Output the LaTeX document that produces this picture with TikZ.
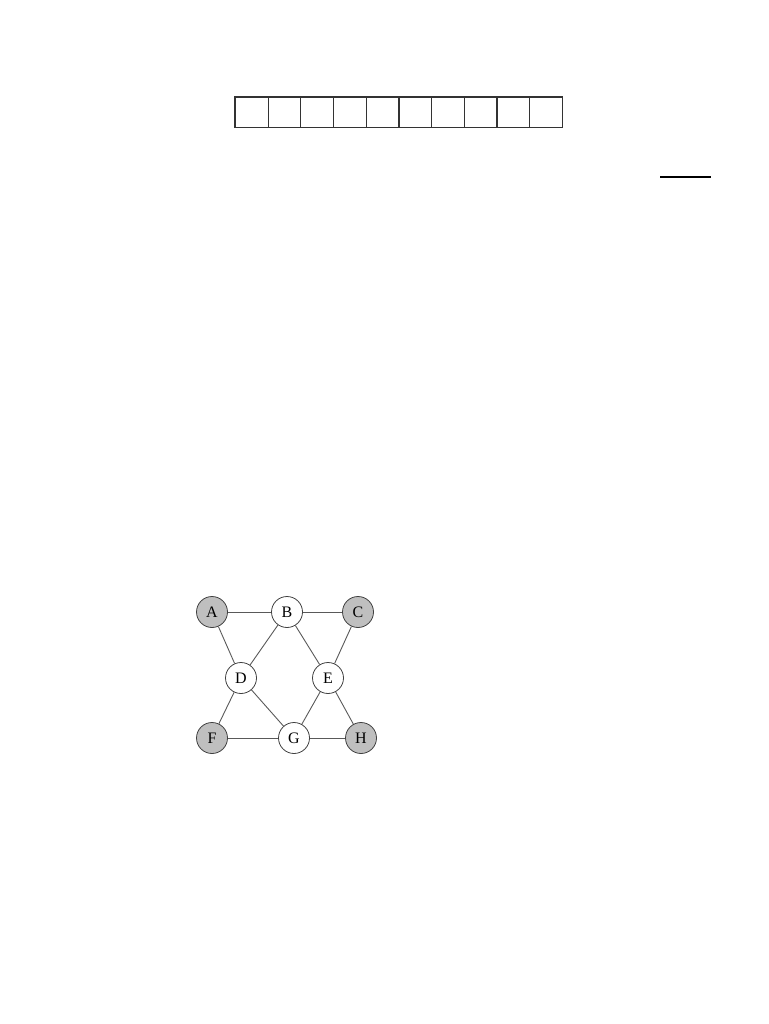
\documentclass[tikz,border=0pt]{standalone}
\usepackage{fontspec}
\setmainfont{Liberation Serif}
\begin{document}
\begin{tikzpicture}[x=1pt,y=-1pt,
  cellbox/.style={minimum width=32.7pt,minimum height=30pt,inner sep=0pt,anchor=north west},
  gridline/.style={draw=black!80,line width=1.2pt},
  vert/.style={circle,draw=black!75,line width=0.8pt,minimum size=31pt,inner sep=0pt,fill=white,font=\fontsize{16}{16}\selectfont},
  shaded/.style={vert,fill=black!25},
  edge/.style={draw=black!65,line width=0.9pt}]
\useasboundingbox (0,0) rectangle (768,1024);
\foreach \i in {0,...,9}{
  \node[cellbox] (c\i) at ({235+32.7*\i},97) {};
}
\draw[gridline] (c0.north west) rectangle (c9.south east);
\foreach \i in {0,...,8}{
  \draw[gridline] (c\i.north east) -- (c\i.south east);
}
\coordinate (l1) at (660,177);
\coordinate (l2) at (711,177);
\draw[line width=1.2pt] (l1) -- (l2);
\node[shaded] (A) at (212,612) {A};
\node[vert] (B) at (287,612) {B};
\node[shaded] (C) at (358,612) {C};
\node[vert] (D) at (241,678) {D};
\node[vert] (E) at (328,678) {E};
\node[shaded] (F) at (212,738) {F};
\node[vert] (G) at (294,738) {G};
\node[shaded] (H) at (361,738) {H};
\foreach \a/\b in {A/B,B/C,A/D,B/D,B/E,C/E,D/F,D/G,E/G,E/H,F/G,G/H}
  \draw[edge] (\a) -- (\b);
\end{tikzpicture}
\end{document}
